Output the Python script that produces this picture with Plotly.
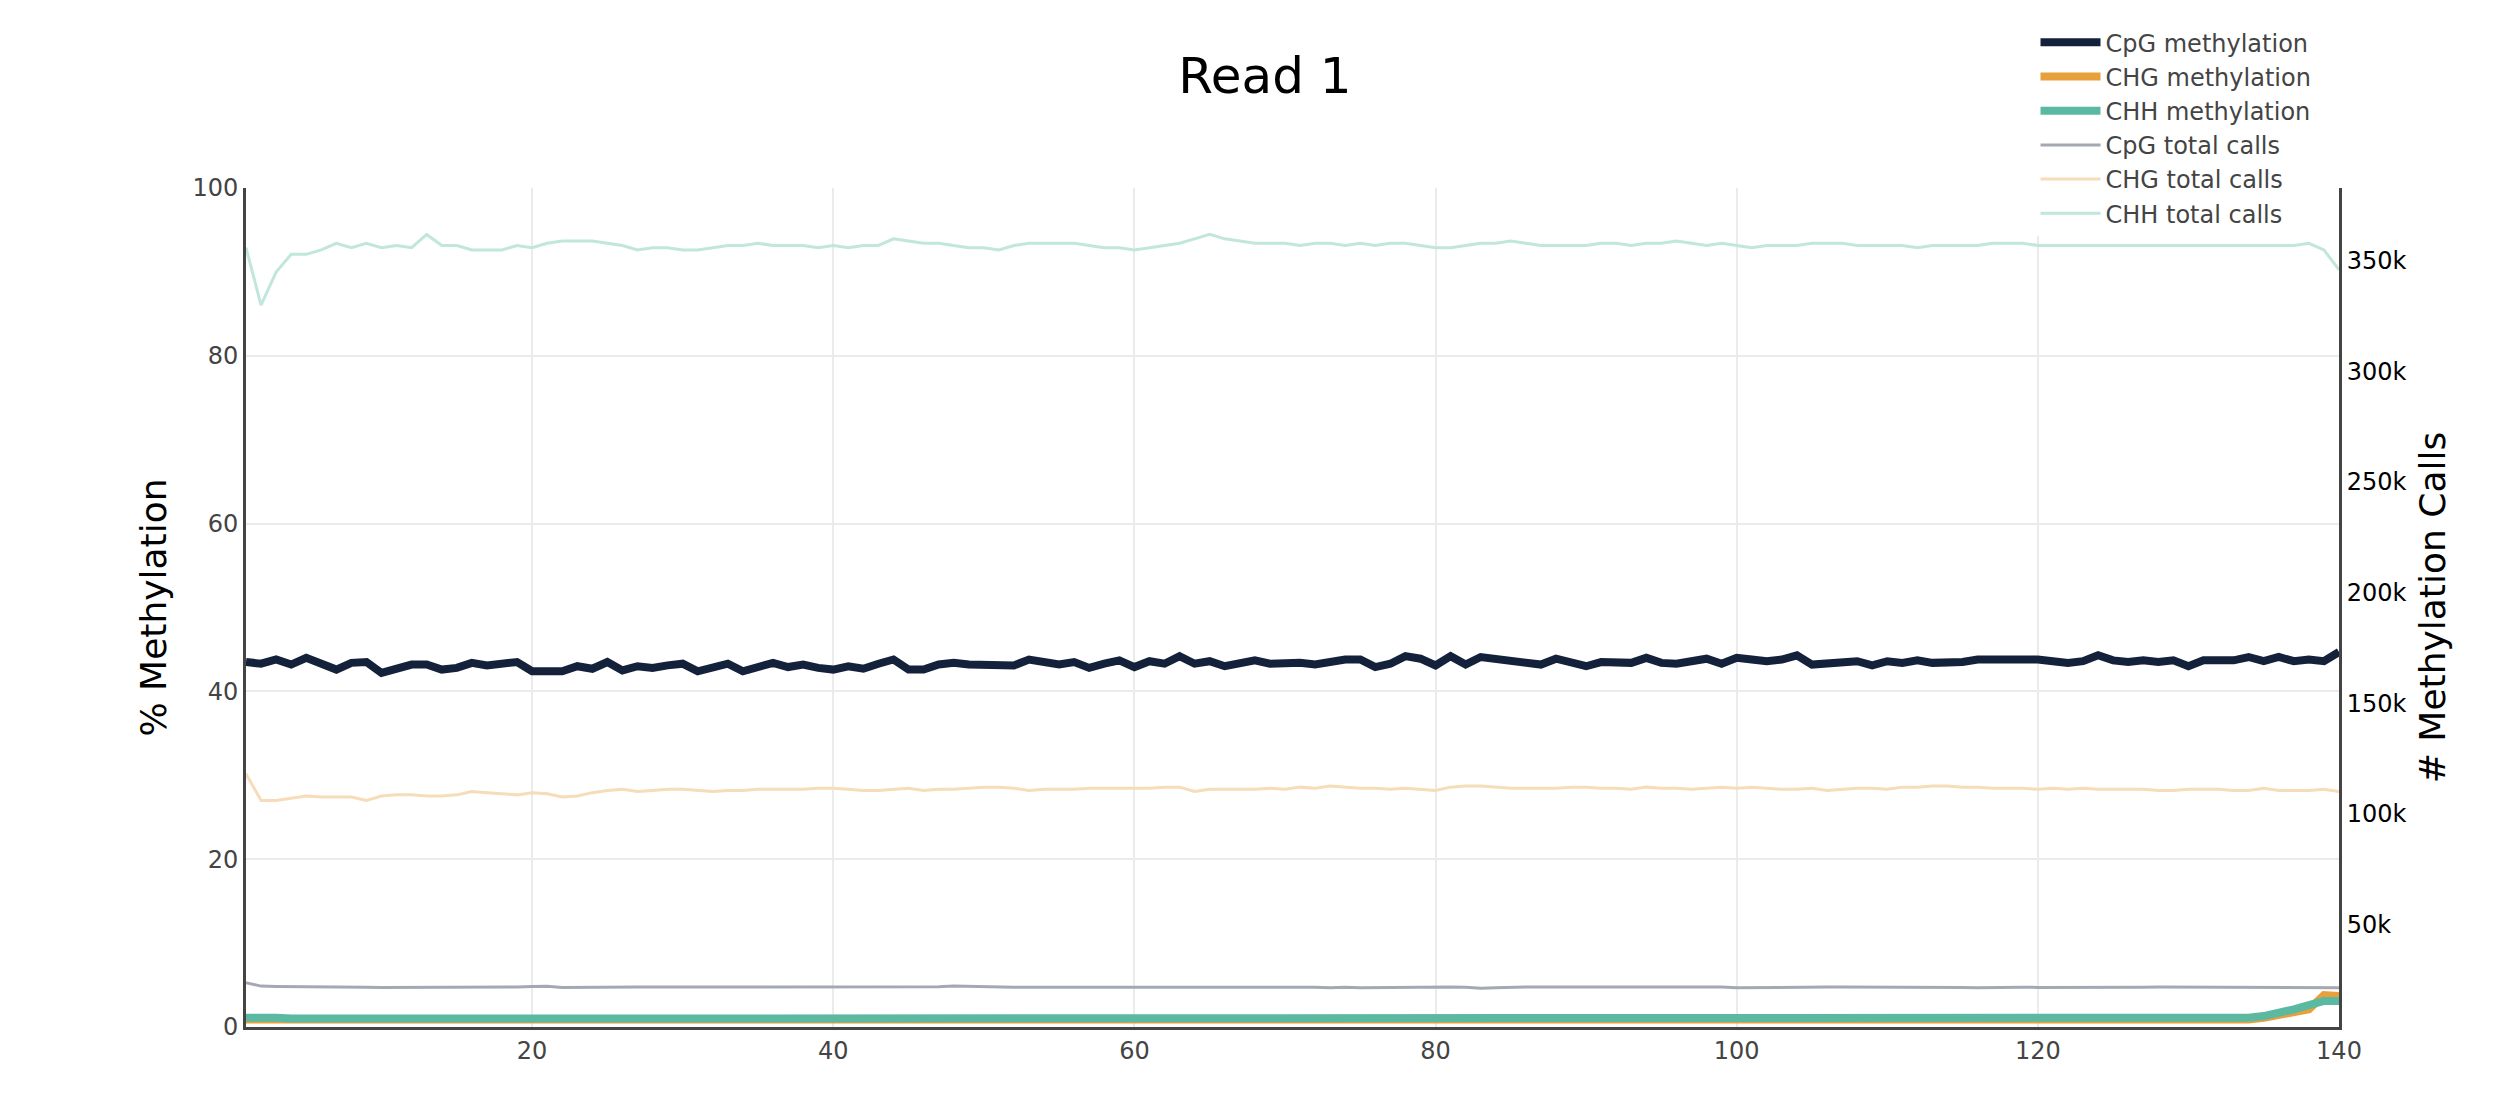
import plotly.graph_objects as go

# % methylation per read position
cpg_meth = [
    43.5, 43.3, 43.8, 43.2, 44.0, 43.3, 42.6, 43.4, 43.5, 42.2,
    42.8, 43.2, 43.2, 42.6, 42.8, 43.4, 43.1, 43.3, 43.5, 42.4,
    42.4, 42.4, 43.0, 42.7, 43.5, 42.5, 43.0, 42.8, 43.1, 43.3,
    42.4, 42.9, 43.3, 42.4, 42.9, 43.4, 42.9, 43.2, 42.8, 42.6,
    43.0, 42.7, 43.3, 43.8, 42.6, 42.6, 43.2, 43.4, 43.2, 43.2,
    43.1, 43.1, 43.8, 43.5, 43.2, 43.5, 42.8, 43.3, 43.7, 42.9,
    43.6, 43.3, 44.2, 43.3, 43.6, 43.0, 43.4, 43.7, 43.3, 43.4,
    43.4, 43.2, 43.5, 43.8, 43.8, 42.9, 43.3, 44.2, 43.9, 43.1,
    44.2, 43.2, 44.1, 43.9, 43.7, 43.5, 43.2, 43.9, 43.4, 43.0,
    43.5, 43.4, 43.4, 44.0, 43.4, 43.3, 43.5, 43.9, 43.3, 44.0,
    43.8, 43.6, 43.8, 44.3, 43.2, 43.3, 43.6, 43.6, 43.1, 43.6,
    43.4, 43.7, 43.4, 43.4, 43.5, 43.8, 43.8, 43.8, 44.0, 43.8,
    43.6, 43.4, 43.6, 44.3, 43.7, 43.5, 43.7, 43.5, 43.7, 43.0,
    43.7, 43.7, 43.7, 44.1, 43.6, 44.1, 43.6, 43.8, 43.6, 44.7,
]
chg_meth = [
    0.9, 0.9, 0.9, 0.8, 0.8, 0.8, 0.8, 0.8, 0.8, 0.8,
    0.8, 0.8, 0.8, 0.8, 0.8, 0.8, 0.8, 0.8, 0.8, 0.8,
    0.8, 0.8, 0.8, 0.8, 0.8, 0.8, 0.8, 0.8, 0.8, 0.8,
    0.8, 0.8, 0.8, 0.8, 0.8, 0.8, 0.8, 0.8, 0.8, 0.8,
    0.8, 0.8, 0.8, 0.8, 0.8, 0.8, 0.8, 0.8, 0.8, 0.8,
    0.8, 0.8, 0.8, 0.8, 0.8, 0.8, 0.8, 0.8, 0.8, 0.8,
    0.8, 0.8, 0.8, 0.8, 0.8, 0.8, 0.8, 0.8, 0.8, 0.8,
    0.8, 0.8, 0.8, 0.8, 0.8, 0.8, 0.8, 0.8, 0.8, 0.8,
    0.8, 0.8, 0.8, 0.8, 0.8, 0.8, 0.8, 0.8, 0.8, 0.8,
    0.8, 0.8, 0.8, 0.8, 0.8, 0.8, 0.8, 0.8, 0.8, 0.8,
    0.8, 0.8, 0.8, 0.8, 0.8, 0.8, 0.8, 0.8, 0.8, 0.8,
    0.8, 0.8, 0.8, 0.8, 0.8, 0.8, 0.8, 0.8, 0.8, 0.8,
    0.8, 0.8, 0.8, 0.8, 0.8, 0.8, 0.8, 0.8, 0.8, 0.8,
    0.8, 0.8, 0.8, 0.9, 1.1, 1.4, 1.7, 2.1, 3.8, 3.7,
]
chh_meth = [
    1.1, 1.2, 1.1, 1.0, 1.0, 1.0, 1.0, 1.0, 1.0, 1.0,
    1.0, 1.0, 1.0, 1.0, 1.0, 1.0, 1.0, 1.0, 1.0, 1.0,
    1.0, 1.0, 1.0, 1.0, 1.0, 1.0, 1.0, 1.0, 1.0, 1.0,
    1.0, 1.0, 1.0, 1.0, 1.0, 1.0, 1.0, 1.0, 1.0, 1.0,
    1.0, 1.0, 1.0, 1.0, 1.0, 1.0, 1.0, 1.0, 1.0, 1.0,
    1.0, 1.0, 1.0, 1.0, 1.0, 1.0, 1.0, 1.0, 1.0, 1.0,
    1.0, 1.0, 1.0, 1.0, 1.0, 1.0, 1.0, 1.0, 1.0, 1.0,
    1.0, 1.0, 1.0, 1.0, 1.0, 1.0, 1.0, 1.0, 1.0, 1.0,
    1.0, 1.0, 1.0, 1.0, 1.0, 1.0, 1.0, 1.0, 1.0, 1.0,
    1.0, 1.0, 1.0, 1.0, 1.0, 1.0, 1.0, 1.0, 1.0, 1.0,
    1.0, 1.0, 1.0, 1.0, 1.0, 1.0, 1.0, 1.0, 1.0, 1.0,
    1.0, 1.0, 1.0, 1.0, 1.0, 1.0, 1.0, 1.0, 1.0, 1.0,
    1.0, 1.0, 1.0, 1.0, 1.0, 1.0, 1.0, 1.0, 1.0, 1.0,
    1.0, 1.0, 1.0, 1.1, 1.3, 1.6, 2.1, 2.6, 3.1, 3.1,
]

# total calls per read position (thousands)
cpg_calls = [
    23.5, 22.0, 21.8, 21.8, 21.7, 21.6, 21.6, 21.5, 21.5, 21.4,
    21.4, 21.4, 21.6, 21.6, 21.6, 21.6, 21.6, 21.5, 21.6, 21.8,
    21.9, 21.4, 21.5, 21.5, 21.5, 21.6, 21.6, 21.6, 21.6, 21.6,
    21.6, 21.6, 21.5, 21.4, 21.4, 21.5, 21.5, 21.5, 21.5, 21.5,
    21.6, 21.5, 21.4, 21.5, 21.5, 21.6, 21.7, 22.0, 21.8, 21.6,
    21.6, 21.5, 21.5, 21.4, 21.4, 21.5, 21.5, 21.5, 21.5, 21.5,
    21.5, 21.3, 21.4, 21.4, 21.5, 21.5, 21.6, 21.6, 21.6, 21.5,
    21.5, 21.5, 21.2, 21.5, 21.3, 21.4, 21.4, 21.5, 21.6, 21.6,
    21.6, 21.5, 21.0, 21.2, 21.5, 21.6, 21.6, 21.6, 21.5, 21.5,
    21.5, 21.5, 21.5, 21.6, 21.6, 21.6, 21.6, 21.6, 21.6, 21.2,
    21.3, 21.5, 21.6, 21.6, 21.6, 21.6, 21.6, 21.6, 21.6, 21.6,
    21.6, 21.5, 21.5, 21.4, 21.4, 21.2, 21.4, 21.6, 21.5, 21.4,
    21.4, 21.4, 21.3, 21.3, 21.2, 21.3, 21.5, 21.6, 21.6, 21.5,
    21.4, 21.4, 21.3, 21.3, 21.3, 21.3, 21.3, 21.3, 21.3, 21.3,
]
chg_calls = [
    118, 106, 106, 107, 108, 107.5, 107.5, 107.5, 106, 108,
    108.5, 108.5, 108, 108, 108.5, 110, 109.5, 109, 108.5, 109.5,
    109, 107.5, 108, 109.5, 110.5, 111, 110, 110.5, 111, 111,
    110.5, 110, 110.5, 110.5, 111, 111, 111, 111, 111.5, 111.5,
    111, 110.5, 110.5, 111, 111.5, 110.5, 111, 111, 111.5, 112,
    112, 111.5, 110.5, 111, 111, 111, 111.5, 111.5, 111.5, 111.5,
    111.5, 112, 112, 110, 111, 111, 111, 111, 111.5, 111,
    112, 111.5, 112.5, 112, 111.5, 111.5, 111, 111.5, 111, 110.5,
    112, 112.5, 112.5, 112, 111.5, 111.5, 111.5, 111.5, 112, 112,
    111.5, 111.5, 111, 112, 111.5, 111.5, 111, 111.5, 112, 111.5,
    112, 111.5, 111, 111, 111.5, 110.5, 111, 111.5, 111.5, 111,
    112, 112, 112.5, 112.5, 112, 112, 111.5, 111.5, 111.5, 111,
    111.5, 111, 111.5, 111, 111, 111, 111, 110.5, 110.5, 111,
    111, 111, 110.5, 110.5, 111.5, 110.5, 110.5, 110.5, 111, 110,
]
chh_calls = [
    356, 330, 345, 353, 353, 355, 358, 356, 358, 356,
    357, 356, 362, 357, 357, 355, 355, 355, 357, 356,
    358, 359, 359, 359, 358, 357, 355, 356, 356, 355,
    355, 356, 357, 357, 358, 357, 357, 357, 356, 357,
    356, 357, 357, 360, 359, 358, 358, 357, 356, 356,
    355, 357, 358, 358, 358, 358, 357, 356, 356, 355,
    356, 357, 358, 360, 362, 360, 359, 358, 358, 358,
    357, 358, 358, 357, 358, 357, 358, 358, 357, 356,
    356, 357, 358, 358, 359, 358, 357, 357, 357, 357,
    358, 358, 357, 358, 358, 359, 358, 357, 358, 357,
    356, 357, 357, 357, 358, 358, 358, 357, 357, 357,
    357, 356, 357, 357, 357, 357, 358, 358, 358, 357,
    357, 357, 357, 357, 357, 357, 357, 357, 357, 357,
    357, 357, 357, 357, 357, 357, 357, 358, 355, 346,
]

positions = list(range(1, 141))

fig = go.Figure()
meth = [
    ("CpG methylation", cpg_meth, "#13223a"),
    ("CHG methylation", chg_meth, "#e8a03c"),
    ("CHH methylation", chh_meth, "#5ab9a0"),
]
for name, ys, col in meth:
    fig.add_trace(go.Scatter(x=positions, y=ys, name=name, mode="lines",
                             line=dict(color=col, width=8)))
calls = [
    ("CpG total calls", cpg_calls, "#a3a8b3"),
    ("CHG total calls", chg_calls, "#f6dcb8"),
    ("CHH total calls", chh_calls, "#c1e6dc"),
]
for name, ys, col in calls:
    fig.add_trace(go.Scatter(x=positions, y=[v * 1000 for v in ys], name=name,
                             mode="lines", yaxis="y2",
                             line=dict(color=col, width=3)))

fig.update_layout(
    width=2514, height=1102,
    paper_bgcolor="white", plot_bgcolor="white",
    font=dict(family="DejaVu Sans", size=24, color="#444"),
    title=dict(text="Read 1", x=0.5, xanchor="center", y=0.955,
               font=dict(size=50, color="black")),
    margin=dict(l=238, r=183, t=178, b=83),
    xaxis=dict(range=[1, 140], showline=True, linecolor="#444", linewidth=3,
               gridcolor="#ebebeb", gridwidth=2, zeroline=False,
               tickvals=[20, 40, 60, 80, 100, 120, 140]),
    yaxis=dict(range=[0, 100], showline=True, linecolor="#444", linewidth=3,
               gridcolor="#ebebeb", gridwidth=2, zeroline=False,
               title=dict(text="% Methylation", font=dict(size=36, color="black"))),
    yaxis2=dict(overlaying="y", side="right", range=[3500, 383000],
                showgrid=False, showline=True, linecolor="#444", linewidth=3,
                zeroline=False, tickvals=[50000, 100000, 150000, 200000,
                                          250000, 300000, 350000],
                ticktext=["50k", "100k", "150k", "200k", "250k", "300k", "350k"],
                tickfont=dict(color="black"),
                title=dict(text="# Methylation Calls",
                           font=dict(size=36, color="black"))),
    legend=dict(x=0.855, y=1.2, xanchor="left", yanchor="top",
                bgcolor="white", font=dict(size=24), tracegroupgap=0,
                itemwidth=60),
)

fig.write_html("out.html")
